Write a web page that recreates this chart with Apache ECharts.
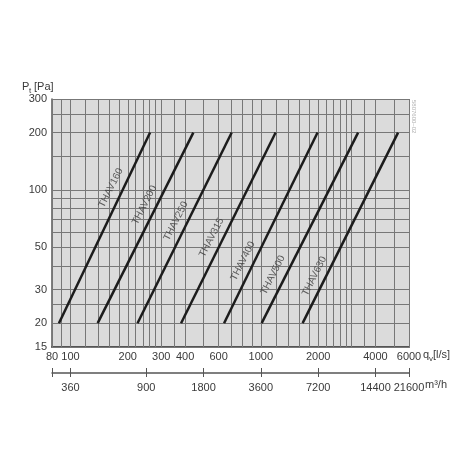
<!DOCTYPE html>
<html><head><meta charset="utf-8">
<script src="https://cdn.jsdelivr.net/npm/echarts@6/dist/echarts.min.js"></script>
<style>html,body{margin:0;padding:0;background:#fff}#c{width:474px;height:474px}</style>
</head><body><div id="c"></div>
<script>
// ---- data ----
const curveNames = ['THAV160','THAV200','THAV250','THAV315','THAV400','THAV500','THAV630'];
const pLow = 20, pHigh = 200;
const qAtLow  = [87, 139, 225, 381, 641, 1010, 1657];
const qAtHigh = [262, 442, 703, 1196, 1986, 3242, 5256];
const labelQ = [163, 245, 358, 551, 806, 1158, 1910];
const labelP = [102.5, 83.4, 68.7, 56.3, 42.4, 35.8, 35.3];
const xTickLabels = [80, 100, 200, 300, 400, 600, 1000, 2000, 4000, 6000];
const yTickLabels = [15, 20, 30, 50, 100, 200, 300];
const xGridValues = [80,90,100,120,140,160,180,200,220,240,260,280,300,350,400,500,600,700,800,900,
                     1000,1200,1400,1600,1800,2000,2200,2400,2600,2800,3000,3500,4000,5000,6000];
const yGridValues = [15,20,25,30,40,50,60,70,80,90,100,150,200,250,300];
const m3hTicks  = [288, 360, 900, 1800, 3600, 7200, 14400, 21600];
const m3hLabels = [360, 900, 1800, 3600, 7200, 14400, 21600];

// ---- style ----
const FONT = '"Liberation Sans", Arial, sans-serif';
const TXT = '#3a3a3a';
const GRIDC = '#777777';
const plain = v => String(Math.round(v));
const chart = echarts.init(document.getElementById('c'), null, {renderer: 'canvas'});

const series = [];
series.push({
  type: 'line', xAxisIndex: 0, yAxisIndex: 0, z: 1, silent: true,
  data: [[80, 15]], symbol: 'none', lineStyle: {width: 0},
  markLine: {
    silent: true, symbol: ['none', 'none'], label: {show: false}, animation: false,
    lineStyle: {color: GRIDC, width: 1, type: 'solid'},
    data: xGridValues.map(v => ({xAxis: v})).concat(yGridValues.map(v => ({yAxis: v})))
  }
});
curveNames.forEach((n, i) => {
  series.push({
    type: 'line', name: n, xAxisIndex: 0, yAxisIndex: 0, z: 5, symbol: 'none',
    data: [[qAtLow[i], pLow], [qAtHigh[i], pHigh]],
    lineStyle: {color: '#1c1c1c', width: 2.5}
  });
});
series.push({
  type: 'scatter', xAxisIndex: 0, yAxisIndex: 0, z: 6, symbolSize: 0, silent: true,
  data: labelQ.map((q, i) => ({value: [q, labelP[i]], name: curveNames[i]})),
  label: {show: true, position: 'inside', formatter: '{b}', rotate: 63,
          color: TXT, fontSize: 10, fontFamily: FONT}
});
series.push({
  type: 'line', xAxisIndex: 1, yAxisIndex: 1, data: [[288, 0]], symbol: 'none', lineStyle: {width: 0}, silent: true,
  markLine: {
    silent: true, symbol: ['none', 'none'], label: {show: false}, animation: false,
    lineStyle: {color: '#555', width: 1, type: 'solid'},
    data: m3hTicks.map(v => ({xAxis: v}))
  }
});

const option = {
  animation: false,
  backgroundColor: '#fff',
  grid: [
    {left: 52, top: 99, width: 357, height: 248, show: true, backgroundColor: '#dbdbdb', borderWidth: 0},
    {left: 52, top: 368, width: 357, height: 9, show: false}
  ],
  xAxis: [
    {gridIndex: 0, type: 'log', logBase: 10, min: 80, max: 6000,
     axisLine: {show: true, onZero: false, lineStyle: {color: '#555', width: 2}},
     axisTick: {show: false}, splitLine: {show: false},
     axisLabel: {customValues: xTickLabels, formatter: plain, margin: 4, color: TXT, fontSize: 11, fontFamily: FONT}},
    {gridIndex: 1, type: 'log', logBase: 10, min: 288, max: 21600,
     axisLine: {show: true, onZero: true, lineStyle: {color: '#555', width: 1.5}},
     axisTick: {show: false}, splitLine: {show: false},
     axisLabel: {customValues: m3hLabels, formatter: plain, margin: 5, color: TXT, fontSize: 11, fontFamily: FONT}}
  ],
  yAxis: [
    {gridIndex: 0, type: 'log', logBase: 10, min: 15, max: 300,
     axisLine: {show: true, lineStyle: {color: '#555', width: 1.5}},
     axisTick: {show: false}, splitLine: {show: false},
     axisLabel: {customValues: yTickLabels, formatter: plain, margin: 5, color: TXT, fontSize: 11, fontFamily: FONT}},
    {gridIndex: 1, type: 'value', min: -1, max: 1, show: false}
  ],
  graphic: [
    {type: 'text', x: 22, y: 87, style: {text: 'P', fill: TXT, font: '11px ' + FONT, textVerticalAlign: 'middle'}},
    {type: 'text', x: 29, y: 91, style: {text: 't', fill: TXT, font: '8px ' + FONT, textVerticalAlign: 'middle'}},
    {type: 'text', x: 34, y: 87, style: {text: '[Pa]', fill: TXT, font: '11px ' + FONT, textVerticalAlign: 'middle'}},
    {type: 'text', x: 423, y: 355, style: {text: 'q', fill: TXT, font: '11px ' + FONT, textVerticalAlign: 'middle'}},
    {type: 'text', x: 429, y: 359, style: {text: 'v', fill: TXT, font: '8px ' + FONT, textVerticalAlign: 'middle'}},
    {type: 'text', x: 433, y: 355, style: {text: '[l/s]', fill: TXT, font: '11px ' + FONT, textVerticalAlign: 'middle'}},
    {type: 'text', x: 425, y: 385, style: {text: 'm³/h', fill: TXT, font: '11px ' + FONT, textVerticalAlign: 'middle'}},
    {type: 'text', x: 414, y: 100, rotation: -Math.PI / 2,
     style: {text: '5807600–02', fill: '#b0b0b0', font: '6px ' + FONT, textVerticalAlign: 'middle'}}
  ],
  series: series
};
chart.setOption(option);
</script>
</body></html>
